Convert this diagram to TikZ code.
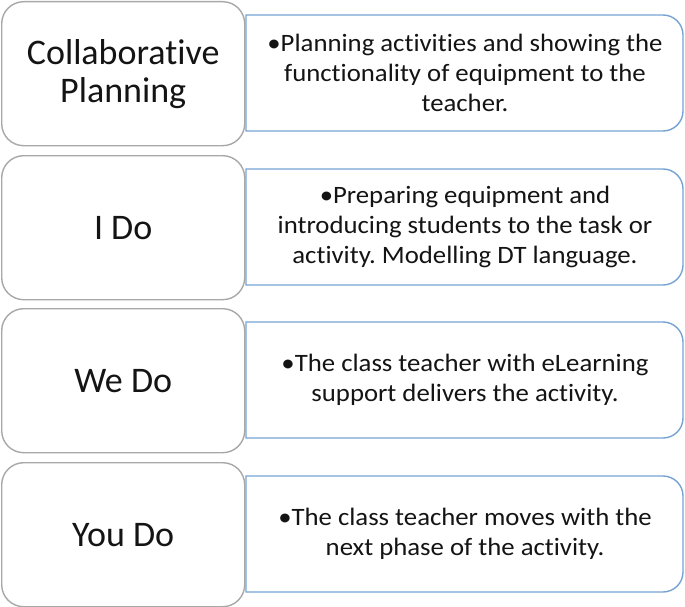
\documentclass[tikz,border=0pt]{standalone}
\usepackage{fontspec}
\setmainfont[Ligatures={NoCommon}]{Carlito}
\newfontfamily\widefont[FakeStretch=1.07,Ligatures={NoCommon}]{Carlito}
\frenchspacing
\definecolor{boxgray}{RGB}{168,168,168}
\definecolor{boxblue}{RGB}{118,163,212}
\begin{document}
\begin{tikzpicture}[x=1pt,y=-1pt,
  leftbox/.style={draw=boxgray, line width=1.4pt, fill=white, rounded corners=22pt,
    minimum width=243pt, minimum height=144pt, inner sep=0pt, anchor=north west,
    align=center, font=\fontsize{36}{38}\selectfont, text=black!92},
  righttext/.style={align=center, font=\widefont\fontsize{25}{30}\selectfont, text=black!92, inner sep=0pt},
  rightframe/.style={draw=boxblue, line width=1.4pt, fill=white}]
\useasboundingbox (0,0) rectangle (685,607);
\foreach \y/\name/\lab/\txt in {
  1/a/{Collaborative\\Planning}/{\textbullet Planning activities and showing the\\functionality of equipment to the\\teacher.},
  155/b/{I Do}/{\textbullet Preparing equipment and\\introducing students to the task or\\activity. Modelling DT language.},
  308/c/{We Do}/{\textbullet The class teacher with eLearning\\support delivers the activity.},
  462/d/{You Do}/{\textbullet The class teacher moves with the\\next phase of the activity.}}{
  \node[leftbox] (L\name) at (1,\y) {\lab};
  \draw[rightframe] (246,\y+14) -- (663,\y+14) arc[start angle=90, end angle=0, radius=20pt]
    -- (683,\y+110) arc[start angle=0, end angle=-90, radius=20pt] -- (246,\y+130) -- cycle;
  \node[righttext] (R\name) at (465,\y+72) {\txt};
}
\end{tikzpicture}
\end{document}
